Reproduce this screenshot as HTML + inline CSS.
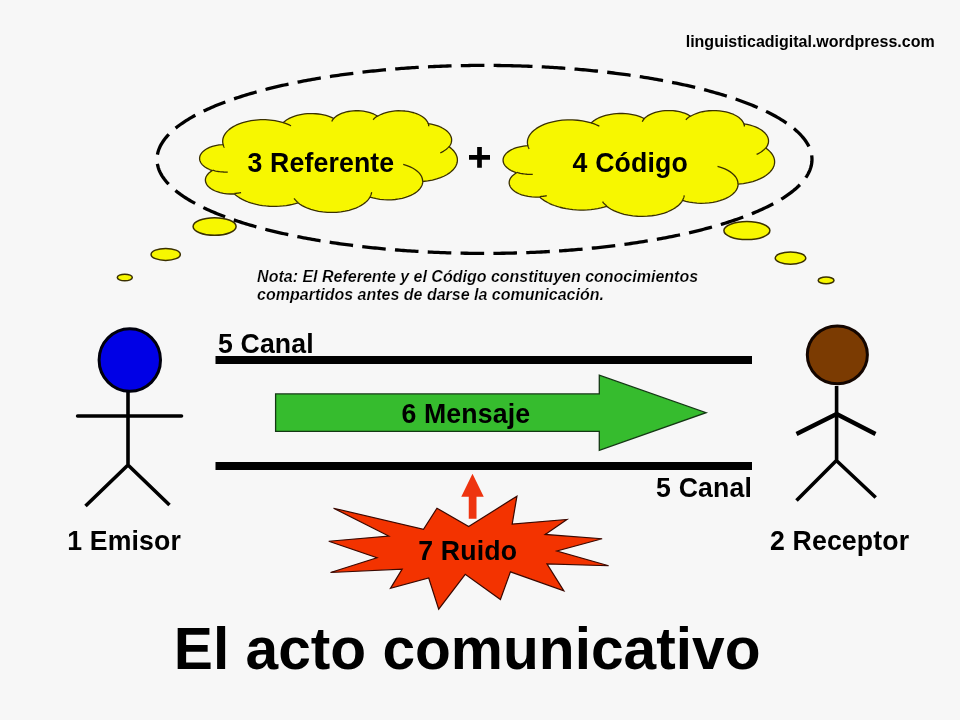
<!DOCTYPE html>
<html><head><meta charset="utf-8"><title>El acto comunicativo</title>
<style>html,body{margin:0;padding:0;background:#f7f7f7;}svg{display:block;will-change:transform;}text{font-family:"Liberation Sans",sans-serif;}</style>
</head><body>
<svg width="960" height="720" viewBox="0 0 960 720">
<rect width="960" height="720" fill="#f7f7f7"/>
<text x="685.7" y="46.5" font-family="Liberation Sans, sans-serif" font-weight="bold" font-size="16" fill="#000">linguisticadigital.wordpress.com</text>
<path d="M493.65,65.44 L495.70,65.45 L497.74,65.48 L499.79,65.50 L501.83,65.53 L503.87,65.56 L505.92,65.60 L507.96,65.64 L510.01,65.69 L512.05,65.73 L514.10,65.78 L516.14,65.84 L518.18,65.90 L520.23,65.96 L522.27,66.03 L524.31,66.10 L526.36,66.17 L528.40,66.25 L530.44,66.33 L532.49,66.41 M541.73,66.85 L543.87,66.96 L546.01,67.07 L548.16,67.19 L550.30,67.32 L552.44,67.44 L554.58,67.58 L556.72,67.71 L558.86,67.86 L561.00,68.00 L563.14,68.15 L565.28,68.30 M574.51,69.02 L576.65,69.20 L578.78,69.38 L580.92,69.57 L583.06,69.76 L585.20,69.95 L587.33,70.15 L589.47,70.36 L591.60,70.57 L593.74,70.78 L595.87,71.00 L598.00,71.23 M607.20,72.25 L609.33,72.50 L611.46,72.75 L613.59,73.01 L615.72,73.28 L617.85,73.54 L619.98,73.82 L622.10,74.10 L624.23,74.39 L626.36,74.68 L628.48,74.97 L630.60,75.27 M639.76,76.63 L641.88,76.96 L644.00,77.30 L646.11,77.64 L648.23,77.99 L650.35,78.34 L652.46,78.70 L654.58,79.07 L656.69,79.44 L658.80,79.82 L660.91,80.20 L663.02,80.59 M672.10,82.35 L674.21,82.78 L676.31,83.21 L678.41,83.65 L680.51,84.09 L682.60,84.55 L684.70,85.01 L686.79,85.48 L688.89,85.95 L690.98,86.44 L693.06,86.93 L695.15,87.43 M704.13,89.67 L706.20,90.21 L708.28,90.77 L710.35,91.33 L712.41,91.90 L714.48,92.48 L716.54,93.07 L718.60,93.66 L720.66,94.27 L722.71,94.89 L724.77,95.52 L726.81,96.16 M735.60,99.05 L737.63,99.76 L739.65,100.47 L741.67,101.20 L743.68,101.94 L745.69,102.69 L747.70,103.46 L749.69,104.24 L751.69,105.04 L753.67,105.85 L755.65,106.68 L757.62,107.53 M766.03,111.38 L767.96,112.32 L769.88,113.28 L771.78,114.27 L773.68,115.28 L775.56,116.31 L777.43,117.36 L779.28,118.44 L781.12,119.55 L782.94,120.69 L784.74,121.85 L786.52,123.05 M793.92,128.60 L795.55,129.99 L797.15,131.42 L798.71,132.89 L800.22,134.42 L801.68,135.99 L803.08,137.61 L804.42,139.29 L805.68,141.03 L806.86,142.82 L807.95,144.67 L808.94,146.57 M811.70,155.37 L811.93,157.50 L812.00,159.64 L811.89,161.78 L811.62,163.91 L811.19,166.01 L810.60,168.07 L809.87,170.09 L809.02,172.06 L808.04,173.97 L806.96,175.82 L805.79,177.62 M799.89,184.73 L798.36,186.24 L796.80,187.71 L795.19,189.13 L793.55,190.51 L791.87,191.85 L790.17,193.15 L788.43,194.41 L786.68,195.64 L784.90,196.84 L783.10,198.01 L781.28,199.15 M773.25,203.75 L771.36,204.75 L769.45,205.74 L767.53,206.69 L765.60,207.63 L763.66,208.55 L761.71,209.45 L759.76,210.33 L757.79,211.20 L755.82,212.04 L753.84,212.87 L751.86,213.69 M743.23,217.03 L741.22,217.77 L739.20,218.49 L737.17,219.20 L735.15,219.90 L733.11,220.59 L731.08,221.26 L729.04,221.93 L726.99,222.58 L724.94,223.22 L722.89,223.85 L720.84,224.47 M711.95,227.03 L709.88,227.60 L707.81,228.16 L705.74,228.71 L703.66,229.25 L701.58,229.78 L699.50,230.31 L697.42,230.82 L695.33,231.33 L693.25,231.83 L691.16,232.32 L689.07,232.81 M680.04,234.81 L677.94,235.25 L675.84,235.69 L673.73,236.12 L671.63,236.54 L669.53,236.96 L667.42,237.37 L665.31,237.77 L663.21,238.17 L661.10,238.56 L658.99,238.95 L656.87,239.33 M647.75,240.89 L645.64,241.23 L643.52,241.58 L641.40,241.91 L639.28,242.24 L637.16,242.56 L635.04,242.88 L632.91,243.19 L630.79,243.50 L628.67,243.80 L626.54,244.10 L624.42,244.39 M615.24,245.58 L613.11,245.85 L610.98,246.11 L608.85,246.36 L606.72,246.61 L604.59,246.85 L602.46,247.09 L600.32,247.33 L598.19,247.55 L596.06,247.78 L593.92,248.00 L591.79,248.21 M582.58,249.09 L580.44,249.28 L578.30,249.46 L576.17,249.64 L574.03,249.82 L571.89,249.99 L569.75,250.16 L567.61,250.32 L565.47,250.48 L563.33,250.64 L561.19,250.79 L559.05,250.93 M549.82,251.51 L547.68,251.63 L545.53,251.75 L543.39,251.87 L541.25,251.98 L539.11,252.08 L536.96,252.19 L534.82,252.28 L532.68,252.38 L530.53,252.47 L528.39,252.55 L526.24,252.63 M517.00,252.94 L514.85,253.00 L512.71,253.05 L510.56,253.10 L508.42,253.15 L506.27,253.19 L504.13,253.23 L501.98,253.27 L499.84,253.30 L497.69,253.32 L495.55,253.35 L493.40,253.37 M484.15,253.40 L482.00,253.40 L479.86,253.39 L477.71,253.38 L475.57,253.37 L473.42,253.35 L471.28,253.32 L469.13,253.30 L466.99,253.27 L464.84,253.23 L462.70,253.19 L460.55,253.15 M451.30,252.92 L449.16,252.85 L447.01,252.78 L444.87,252.71 L442.72,252.63 L440.58,252.55 L438.44,252.47 L436.29,252.38 L434.15,252.28 L432.01,252.18 L429.86,252.08 L427.72,251.98 M418.48,251.47 L416.34,251.34 L414.20,251.21 L412.06,251.07 L409.92,250.93 L407.78,250.78 L405.64,250.63 L403.50,250.48 L401.36,250.32 L399.22,250.16 L397.08,249.99 L394.94,249.82 M385.72,249.02 L383.59,248.83 L381.45,248.63 L379.32,248.42 L377.18,248.21 L375.05,247.99 L372.91,247.78 L370.78,247.55 L368.64,247.32 L366.51,247.09 L364.38,246.85 L362.25,246.61 M353.06,245.50 L350.93,245.23 L348.81,244.95 L346.68,244.67 L344.55,244.39 L342.43,244.09 L340.30,243.80 L338.18,243.50 L336.05,243.19 L333.93,242.88 L331.81,242.56 L329.69,242.23 M320.55,240.77 L318.44,240.42 L316.32,240.06 L314.21,239.69 L312.10,239.32 L309.98,238.94 L307.87,238.56 L305.76,238.17 L303.66,237.77 L301.55,237.37 L299.44,236.95 L297.34,236.54 M288.28,234.66 L286.18,234.21 L284.09,233.74 L281.99,233.28 L279.90,232.80 L277.81,232.31 L275.72,231.82 L273.64,231.32 L271.55,230.82 L269.47,230.30 L267.39,229.78 L265.31,229.24 M256.37,226.84 L254.31,226.26 L252.25,225.67 L250.19,225.07 L248.13,224.46 L246.08,223.84 L244.03,223.21 L241.98,222.57 L239.93,221.92 L237.89,221.25 L235.86,220.58 L233.83,219.89 M225.11,216.79 L223.10,216.03 L221.10,215.26 L219.10,214.48 L217.11,213.68 L215.13,212.86 L213.15,212.03 L211.18,211.18 L209.21,210.32 L207.26,209.44 L205.31,208.54 L203.37,207.62 M195.13,203.42 L193.25,202.39 L191.38,201.33 L189.53,200.24 L187.70,199.13 L185.88,197.99 L184.08,196.83 L182.30,195.63 L180.54,194.40 L178.81,193.13 L177.10,191.83 L175.43,190.49 M168.63,184.22 L167.17,182.65 L165.78,181.02 L164.45,179.33 L163.19,177.59 L162.02,175.80 L160.94,173.94 L159.97,172.03 L159.11,170.06 L158.39,168.05 L157.80,165.98 L157.37,163.88 M157.41,154.67 L157.86,152.58 L158.47,150.52 L159.21,148.50 L160.08,146.54 L161.06,144.64 L162.15,142.79 L163.34,141.00 L164.60,139.27 L165.94,137.59 L167.34,135.97 L168.80,134.39 M175.62,128.15 L177.30,126.82 L179.01,125.52 L180.75,124.26 L182.51,123.03 L184.29,121.84 L186.09,120.67 L187.91,119.54 L189.75,118.43 L191.60,117.35 L193.47,116.29 L195.35,115.26 M203.60,111.07 L205.54,110.16 L207.49,109.26 L209.44,108.38 L211.41,107.52 L213.38,106.67 L215.36,105.84 L217.34,105.03 L219.34,104.23 L221.33,103.45 L223.34,102.68 L225.35,101.93 M234.06,98.83 L236.10,98.14 L238.13,97.47 L240.17,96.81 L242.22,96.15 L244.26,95.51 L246.32,94.88 L248.37,94.26 L250.43,93.66 L252.49,93.06 L254.55,92.47 L256.62,91.89 M265.55,89.49 L267.63,88.96 L269.71,88.44 L271.79,87.92 L273.88,87.42 L275.97,86.92 L278.05,86.43 L280.14,85.94 L282.24,85.47 L284.33,85.00 L286.43,84.54 L288.52,84.09 M297.58,82.21 L299.69,81.80 L301.79,81.39 L303.90,80.98 L306.01,80.59 L308.12,80.20 L310.23,79.81 L312.34,79.44 L314.46,79.06 L316.57,78.70 L318.68,78.34 L320.80,77.99 M329.94,76.53 L332.06,76.20 L334.18,75.89 L336.30,75.57 L338.43,75.27 L340.55,74.97 L342.68,74.67 L344.80,74.38 L346.93,74.10 L349.05,73.82 L351.18,73.54 L353.31,73.27 M362.50,72.17 L364.63,71.92 L366.76,71.68 L368.89,71.45 L371.03,71.22 L373.16,71.00 L375.29,70.78 L377.43,70.57 L379.56,70.36 L381.70,70.15 L383.84,69.95 L385.97,69.75 M395.19,68.96 L397.33,68.79 L399.47,68.62 L401.61,68.46 L403.75,68.30 L405.89,68.15 L408.03,68.00 L410.17,67.85 L412.31,67.71 L414.45,67.58 L416.59,67.44 L418.73,67.31 M427.97,66.81 L430.11,66.71 L432.26,66.60 L434.40,66.51 L436.54,66.41 L438.69,66.32 L440.83,66.24 L442.97,66.16 L445.12,66.08 L447.26,66.01 L449.41,65.94 L451.55,65.88 M460.80,65.65 L462.95,65.60 L465.09,65.57 L467.24,65.53 L469.38,65.50 L471.53,65.47 L473.67,65.45 L475.82,65.43 L477.96,65.42 L480.11,65.41 L482.25,65.40 L484.40,65.40" fill="none" stroke="#000" stroke-width="3.3"/>
<path d="M223.05,144.23 L222.77,142.79 222.68,141.36 222.76,139.93 223.02,138.49 223.47,137.05 224.11,135.59 224.97,134.12 226.05,132.64 227.40,131.14 229.04,129.64 231.00,128.14 233.32,126.66 236.03,125.22 239.15,123.86 242.71,122.61 246.68,121.52 251.03,120.65 255.69,120.03 260.55,119.72 265.47,119.72 270.33,120.05 274.98,120.67 279.32,121.55 283.28,122.65 L284.19,121.78 285.24,120.92 286.42,120.06 287.76,119.21 289.25,118.37 290.92,117.56 292.77,116.79 294.80,116.07 297.00,115.41 299.37,114.83 301.90,114.34 304.55,113.96 307.31,113.70 310.12,113.58 312.95,113.59 315.76,113.73 318.50,114.00 321.14,114.39 323.65,114.90 326.00,115.49 328.18,116.16 330.18,116.89 332.01,117.67 333.65,118.48 L334.44,117.70 335.35,116.91 336.40,116.13 337.60,115.36 338.97,114.60 340.50,113.87 342.22,113.18 344.12,112.55 346.19,111.98 348.43,111.50 350.80,111.13 353.28,110.87 355.83,110.74 358.40,110.75 360.94,110.90 363.40,111.17 365.76,111.56 367.97,112.05 370.02,112.63 371.90,113.28 373.59,113.97 375.10,114.71 376.44,115.47 377.62,116.24 L379.34,115.25 381.31,114.29 383.56,113.39 386.08,112.58 388.87,111.88 391.89,111.33 395.09,110.95 398.40,110.77 401.75,110.79 405.05,111.02 408.21,111.44 411.18,112.02 413.91,112.75 416.37,113.58 418.56,114.50 420.48,115.46 422.14,116.46 423.56,117.48 424.76,118.50 425.77,119.52 426.61,120.54 427.28,121.54 427.81,122.54 428.20,123.53 L431.32,124.08 434.21,124.77 436.86,125.58 439.25,126.48 441.37,127.45 443.24,128.45 444.87,129.48 446.27,130.53 447.47,131.58 448.49,132.62 449.34,133.66 450.04,134.69 450.60,135.71 451.03,136.72 451.34,137.73 451.54,138.73 451.63,139.72 451.61,140.72 451.49,141.72 451.25,142.72 450.90,143.72 450.42,144.74 449.81,145.76 449.06,146.79 L451.13,148.38 452.83,149.97 454.22,151.54 455.32,153.11 456.17,154.66 456.79,156.19 457.19,157.71 457.39,159.22 457.40,160.74 457.21,162.25 456.81,163.77 456.21,165.30 455.37,166.85 454.28,168.41 452.90,169.99 451.22,171.58 449.17,173.16 446.73,174.73 443.86,176.24 440.52,177.67 436.71,178.97 432.43,180.08 427.75,180.94 422.75,181.50 L422.67,182.63 422.46,183.77 422.12,184.91 421.63,186.05 420.99,187.21 420.18,188.38 419.19,189.56 418.00,190.74 416.59,191.92 414.93,193.10 413.00,194.26 410.78,195.38 408.26,196.45 405.42,197.42 402.28,198.28 398.87,198.98 395.22,199.49 391.42,199.80 387.54,199.87 383.67,199.71 379.92,199.32 376.35,198.73 373.04,197.97 370.01,197.06 L369.15,198.44 368.07,199.82 366.77,201.22 365.21,202.62 363.37,204.02 361.22,205.40 358.73,206.75 355.87,208.04 352.65,209.23 349.05,210.30 345.11,211.19 340.87,211.87 336.42,212.31 331.84,212.47 327.26,212.35 322.78,211.96 318.50,211.31 314.51,210.45 310.86,209.40 307.58,208.23 304.67,206.95 302.12,205.61 299.92,204.23 298.03,202.83 L295.34,203.64 292.48,204.37 289.45,205.00 286.28,205.53 282.98,205.94 279.60,206.22 276.16,206.36 272.70,206.37 269.26,206.23 265.88,205.96 262.58,205.56 259.40,205.04 256.36,204.41 253.48,203.69 250.78,202.89 248.26,202.02 245.93,201.09 243.78,200.12 241.81,199.12 240.01,198.10 238.38,197.06 236.91,196.01 235.59,194.96 234.40,193.90 L230.65,193.99 226.93,193.79 223.38,193.32 220.11,192.62 217.19,191.74 214.66,190.73 212.51,189.65 210.72,188.52 209.25,187.38 208.06,186.23 207.13,185.09 206.42,183.96 205.91,182.85 205.57,181.74 205.41,180.64 205.40,179.55 205.56,178.45 205.88,177.35 206.39,176.23 207.09,175.11 208.00,173.97 209.17,172.82 210.63,171.67 212.40,170.54 L209.62,169.53 207.27,168.41 205.31,167.24 203.72,166.05 202.44,164.85 201.44,163.67 200.68,162.49 200.14,161.34 199.78,160.19 199.61,159.05 199.61,157.92 199.78,156.78 200.12,155.64 200.66,154.48 201.41,153.31 202.40,152.12 203.67,150.92 205.26,149.73 207.20,148.56 209.54,147.44 212.30,146.42 215.48,145.56 219.02,144.91 222.83,144.55 Z" fill="#f7f700" stroke="#3a3000" stroke-width="1.3" stroke-linejoin="round"/>
<path d="M227.77,172.03 L226.41,172.06 225.05,172.06 223.69,172.02 222.35,171.95 221.02,171.83 219.71,171.68 218.44,171.50 217.20,171.28 216.00,171.03 214.84,170.76 213.73,170.47 212.67,170.15 M241.10,192.56 L240.58,192.66 240.06,192.77 239.53,192.86 238.99,192.95 238.45,193.04 237.90,193.12 237.34,193.19 236.78,193.26 236.21,193.32 235.64,193.37 235.07,193.42 234.49,193.46 M298.02,202.42 L297.60,202.08 297.20,201.74 296.82,201.40 296.45,201.05 296.10,200.71 295.76,200.37 295.44,200.03 295.13,199.69 294.84,199.35 294.56,199.01 294.29,198.67 294.04,198.33 M371.63,192.21 L371.56,192.58 371.49,192.95 371.40,193.32 371.30,193.70 371.19,194.07 371.07,194.44 370.93,194.82 370.78,195.19 370.61,195.57 370.44,195.95 370.24,196.33 370.04,196.70 M403.23,164.44 L406.96,165.57 410.22,166.87 413.00,168.26 415.33,169.71 417.26,171.18 418.83,172.65 420.08,174.12 421.04,175.57 421.76,177.00 422.25,178.42 422.53,179.83 422.61,181.24 M448.94,146.55 L448.50,147.07 448.02,147.61 447.49,148.14 446.91,148.67 446.29,149.20 445.61,149.74 444.88,150.27 444.09,150.80 443.24,151.32 442.33,151.84 441.35,152.35 440.31,152.84 M428.24,123.17 L428.32,123.42 428.39,123.67 428.45,123.92 428.51,124.17 428.56,124.42 428.60,124.66 428.63,124.91 428.66,125.16 428.68,125.41 428.69,125.65 428.69,125.90 428.69,126.15 M373.12,119.70 L373.39,119.39 373.67,119.07 373.97,118.76 374.29,118.44 374.63,118.12 374.98,117.80 375.36,117.49 375.75,117.17 376.17,116.85 376.60,116.54 377.06,116.22 377.54,115.91 M331.77,121.51 L331.89,121.24 332.01,120.97 332.15,120.70 332.30,120.43 332.45,120.16 332.62,119.89 332.81,119.62 333.00,119.34 333.21,119.07 333.43,118.79 333.67,118.52 333.92,118.24 M283.25,122.62 L283.99,122.86 284.71,123.11 285.42,123.36 286.10,123.61 286.77,123.87 287.43,124.14 288.06,124.40 288.68,124.68 289.29,124.95 289.87,125.23 290.44,125.51 291.00,125.80 M224.40,147.57 L224.25,147.29 224.10,147.01 223.96,146.73 223.83,146.45 223.71,146.17 223.59,145.89 223.48,145.61 223.38,145.34 223.29,145.06 223.20,144.78 223.12,144.51 223.05,144.23 " fill="none" stroke="#3a3000" stroke-width="1.3"/>
<path d="M527.78,145.39 L527.50,143.90 527.40,142.41 527.48,140.92 527.76,139.43 528.23,137.92 528.90,136.41 529.81,134.88 530.95,133.34 532.37,131.78 534.10,130.22 536.16,128.66 538.60,127.12 541.45,125.62 544.75,124.20 548.49,122.90 552.67,121.77 557.26,120.86 562.17,120.22 567.28,119.89 572.47,119.90 577.58,120.24 582.48,120.88 587.05,121.80 591.22,122.94 L592.18,122.04 593.28,121.14 594.53,120.25 595.94,119.36 597.51,118.50 599.27,117.65 601.22,116.85 603.35,116.10 605.67,115.41 608.17,114.80 610.83,114.30 613.63,113.90 616.53,113.64 619.49,113.51 622.47,113.51 625.43,113.66 628.31,113.95 631.09,114.36 633.73,114.88 636.21,115.49 638.51,116.19 640.62,116.95 642.54,117.76 644.27,118.61 L645.10,117.79 646.06,116.98 647.17,116.16 648.43,115.36 649.87,114.57 651.49,113.81 653.30,113.10 655.30,112.43 657.48,111.84 659.83,111.35 662.33,110.96 664.95,110.69 667.63,110.56 670.33,110.57 673.01,110.72 675.61,111.00 678.09,111.41 680.42,111.92 682.58,112.52 684.55,113.19 686.33,113.92 687.93,114.68 689.34,115.47 690.58,116.28 L692.39,115.24 694.47,114.25 696.84,113.31 699.49,112.47 702.43,111.74 705.61,111.17 708.98,110.77 712.47,110.58 715.99,110.61 719.47,110.84 722.80,111.28 725.93,111.89 728.80,112.64 731.40,113.51 733.70,114.46 735.72,115.47 737.47,116.51 738.96,117.56 740.23,118.63 741.30,119.69 742.17,120.74 742.88,121.79 743.44,122.83 743.85,123.86 L747.13,124.43 750.19,125.15 752.98,126.00 755.49,126.93 757.72,127.93 759.69,128.98 761.41,130.05 762.89,131.14 764.15,132.23 765.22,133.32 766.12,134.40 766.85,135.47 767.44,136.53 767.90,137.58 768.23,138.63 768.44,139.67 768.53,140.70 768.51,141.74 768.38,142.78 768.13,143.82 767.76,144.87 767.25,145.92 766.62,146.99 765.83,148.06 L768.00,149.71 769.79,151.36 771.25,153.00 772.42,154.63 773.31,156.24 773.96,157.83 774.39,159.42 774.60,160.99 774.60,162.56 774.40,164.14 773.99,165.72 773.35,167.32 772.46,168.93 771.32,170.55 769.87,172.19 768.09,173.84 765.94,175.49 763.37,177.12 760.34,178.70 756.83,180.19 752.81,181.54 748.31,182.69 743.38,183.59 738.12,184.17 L738.03,185.35 737.81,186.52 737.44,187.71 736.93,188.90 736.25,190.11 735.40,191.32 734.36,192.55 733.11,193.78 731.62,195.01 729.87,196.24 727.84,197.44 725.51,198.61 722.85,199.72 719.86,200.73 716.55,201.62 712.96,202.35 709.12,202.89 705.11,203.20 701.02,203.28 696.96,203.11 693.00,202.71 689.25,202.09 685.76,201.30 682.57,200.36 L681.66,201.79 680.53,203.23 679.15,204.68 677.51,206.14 675.57,207.59 673.31,209.03 670.68,210.44 667.68,211.77 664.28,213.02 660.49,214.13 656.34,215.06 651.88,215.76 647.19,216.22 642.37,216.39 637.54,216.26 632.82,215.85 628.32,215.18 624.11,214.28 620.27,213.20 616.81,211.97 613.75,210.64 611.07,209.25 608.75,207.81 606.76,206.36 L603.93,207.20 600.91,207.96 597.72,208.62 594.38,209.17 590.91,209.59 587.35,209.88 583.73,210.03 580.08,210.04 576.46,209.89 572.89,209.61 569.42,209.20 566.07,208.65 562.87,208.00 559.84,207.25 556.99,206.42 554.34,205.51 551.88,204.55 549.62,203.54 547.54,202.50 545.65,201.43 543.94,200.35 542.39,199.26 540.99,198.17 539.74,197.07 L535.79,197.16 531.87,196.95 528.13,196.46 524.69,195.73 521.62,194.82 518.95,193.77 516.69,192.64 514.80,191.47 513.25,190.28 512.00,189.09 511.02,187.90 510.27,186.73 509.73,185.57 509.38,184.42 509.20,183.28 509.20,182.14 509.36,180.99 509.71,179.85 510.24,178.69 510.97,177.52 511.94,176.33 513.17,175.14 514.70,173.95 516.57,172.77 L513.64,171.71 511.16,170.55 509.10,169.34 507.43,168.09 506.08,166.85 505.03,165.61 504.23,164.39 503.65,163.19 503.28,162.00 503.10,160.81 503.10,159.63 503.27,158.45 503.64,157.26 504.21,156.06 505.00,154.84 506.04,153.60 507.38,152.36 509.05,151.12 511.09,149.90 513.56,148.73 516.47,147.67 519.82,146.78 523.55,146.11 527.55,145.72 Z" fill="#f7f700" stroke="#3a3000" stroke-width="1.3" stroke-linejoin="round"/>
<path d="M532.76,174.31 L531.33,174.35 529.90,174.35 528.47,174.31 527.05,174.23 525.65,174.11 524.27,173.95 522.93,173.76 521.63,173.53 520.36,173.28 519.14,173.00 517.98,172.69 516.86,172.36 M546.79,195.67 L546.25,195.78 545.70,195.89 545.14,195.99 544.58,196.08 544.00,196.17 543.42,196.25 542.84,196.33 542.25,196.40 541.65,196.46 541.05,196.51 540.44,196.56 539.83,196.60 M606.75,205.93 L606.31,205.58 605.89,205.22 605.48,204.86 605.09,204.51 604.72,204.15 604.37,203.80 604.03,203.44 603.71,203.09 603.40,202.73 603.10,202.38 602.82,202.02 602.55,201.67 M684.27,195.31 L684.20,195.69 684.12,196.08 684.03,196.47 683.93,196.85 683.81,197.24 683.68,197.63 683.53,198.02 683.37,198.41 683.20,198.80 683.01,199.20 682.81,199.59 682.60,199.98 M717.55,166.42 L721.49,167.60 724.91,168.94 727.84,170.39 730.30,171.90 732.33,173.43 733.98,174.96 735.30,176.48 736.32,177.99 737.07,179.48 737.59,180.96 737.88,182.43 737.97,183.89 M765.70,147.80 L765.23,148.35 764.72,148.91 764.17,149.46 763.56,150.01 762.90,150.57 762.19,151.12 761.42,151.68 760.59,152.23 759.69,152.77 758.73,153.31 757.71,153.84 756.61,154.36 M743.89,123.49 L743.97,123.75 744.05,124.01 744.12,124.27 744.18,124.52 744.23,124.78 744.27,125.04 744.31,125.30 744.34,125.55 744.36,125.81 744.37,126.07 744.37,126.32 744.37,126.58 M685.85,119.88 L686.13,119.55 686.42,119.22 686.74,118.89 687.07,118.56 687.43,118.23 687.80,117.90 688.20,117.57 688.61,117.24 689.05,116.91 689.51,116.59 689.99,116.26 690.50,115.93 M642.30,121.76 L642.42,121.48 642.55,121.20 642.69,120.92 642.84,120.64 643.01,120.35 643.19,120.07 643.38,119.79 643.59,119.50 643.81,119.22 644.04,118.93 644.29,118.64 644.55,118.36 M591.19,122.92 L591.97,123.16 592.73,123.42 593.47,123.68 594.19,123.94 594.90,124.21 595.59,124.49 596.26,124.77 596.91,125.05 597.55,125.34 598.17,125.63 598.77,125.92 599.35,126.22 M529.21,148.87 L529.05,148.58 528.89,148.28 528.75,147.99 528.61,147.70 528.48,147.41 528.36,147.12 528.24,146.83 528.14,146.54 528.04,146.26 527.95,145.97 527.86,145.68 527.78,145.39 " fill="none" stroke="#3a3000" stroke-width="1.3"/>
<text transform="translate(247.5,172) scale(1,1.05)" font-family="Liberation Sans, sans-serif" font-weight="bold" font-size="26.67" letter-spacing="0.15">3 Referente</text>
<text transform="translate(572.6,171.8) scale(1,1.05)" font-family="Liberation Sans, sans-serif" font-weight="bold" font-size="26.67" letter-spacing="0.15">4 Código</text>
<path d="M469 157.3 H490 M479.5 146.9 V167.7" stroke="#000" stroke-width="4.7"/>
<g fill="#f7f700" stroke="#3a3000" stroke-width="1.5">
<ellipse cx="214.6" cy="226.5" rx="21.5" ry="8.75"/>
<ellipse cx="165.7" cy="254.4" rx="14.6" ry="6"/>
<ellipse cx="124.8" cy="277.5" rx="7.5" ry="3.3"/>
<ellipse cx="746.9" cy="230.6" rx="23" ry="9"/>
<ellipse cx="790.5" cy="258.1" rx="15.3" ry="6.1"/>
<ellipse cx="826.1" cy="280.4" rx="7.9" ry="3.3"/>
</g>
<text font-family="Liberation Sans, sans-serif" font-weight="bold" font-style="italic" font-size="16" stroke="#f7f7f7" stroke-width="0.18"><tspan x="257.1" y="281.6">Nota: El Referente y el Código constituyen conocimientos</tspan><tspan x="257.1" y="300.2">compartidos antes de darse la comunicación.</tspan></text>
<text transform="translate(217.95,352.6) scale(1,1.05)" font-family="Liberation Sans, sans-serif" font-weight="bold" font-size="26.67" letter-spacing="0.15">5 Canal</text>
<rect x="215.5" y="356" width="536.5" height="8" fill="#000"/>
<rect x="215.5" y="462" width="536.5" height="8" fill="#000"/>
<text transform="translate(656.1,496.6) scale(1,1.05)" font-family="Liberation Sans, sans-serif" font-weight="bold" font-size="26.67" letter-spacing="0.15">5 Canal</text>
<path d="M275.6,393.9 H599.3 V375.2 L706.1,412.7 L599.3,450.3 V431.4 H275.6 Z" fill="#36bc2e" stroke="#143814" stroke-width="1.3" stroke-linejoin="miter"/>
<text transform="translate(401.4,422.7) scale(1,1.05)" font-family="Liberation Sans, sans-serif" font-weight="bold" font-size="26.67" letter-spacing="0.15">6 Mensaje</text>
<!-- emisor -->
<g stroke="#000" stroke-width="3.6" fill="none" stroke-linecap="butt">
<path d="M128,392 V465 M128,465 L85.5,506 M128,465 L169.5,505"/>
<path d="M77.6,416 H181.5" stroke-linecap="round"/>
<path d="M836.6,386 V461 M836.4,460.5 L796.5,500.5 M836.4,460.5 L875.7,497.5"/>
<path d="M836.6,414 L796.5,434 M836.6,414 L875.5,434" stroke-width="4.3"/>
</g>
<ellipse cx="129.8" cy="360" rx="30.7" ry="31.3" fill="#0000e6" stroke="#00000c" stroke-width="3"/>
<ellipse cx="837.35" cy="354.85" rx="30.05" ry="28.95" fill="#7b3b02" stroke="#140600" stroke-width="3"/>
<text transform="translate(67.2,549.8) scale(1,1.05)" font-family="Liberation Sans, sans-serif" font-weight="bold" font-size="26.67" letter-spacing="0.15">1 Emisor</text>
<text transform="translate(770,549.8) scale(1,1.05)" font-family="Liberation Sans, sans-serif" font-weight="bold" font-size="26.67" letter-spacing="0.15">2 Receptor</text>
<path d="M468.70,526.54 L516.93,496.20 L512.18,524.06 L566.92,519.52 L545.18,534.47 L602.13,538.77 L556.91,551.00 L608.65,565.73 L546.93,563.91 L563.88,590.86 L510.43,571.83 L500.41,599.45 L465.23,574.33 L438.70,609.20 L428.72,577.95 L390.46,588.36 L402.18,569.11 L330.50,572.51 L376.98,557.80 L328.75,541.27 L388.71,536.05 L333.54,508.21 L423.50,529.26 L436.98,508.21 Z" fill="#f33300" stroke="#3a0800" stroke-width="1.2" stroke-linejoin="miter"/>
<path d="M472.5,473.75 L483.75,496.8 H476.5 V518.75 H468.75 V496.8 H461.25 Z" fill="#ee3410"/>
<text transform="translate(418.3,559.8) scale(1,1.05)" font-family="Liberation Sans, sans-serif" font-weight="bold" font-size="26.67" letter-spacing="0.15">7 Ruido</text>
<text transform="translate(173.8,668.7) scale(1,1.0)" font-family="Liberation Sans, sans-serif" font-weight="bold" font-size="58.67">El acto comunicativo</text>
</svg>
</body></html>
